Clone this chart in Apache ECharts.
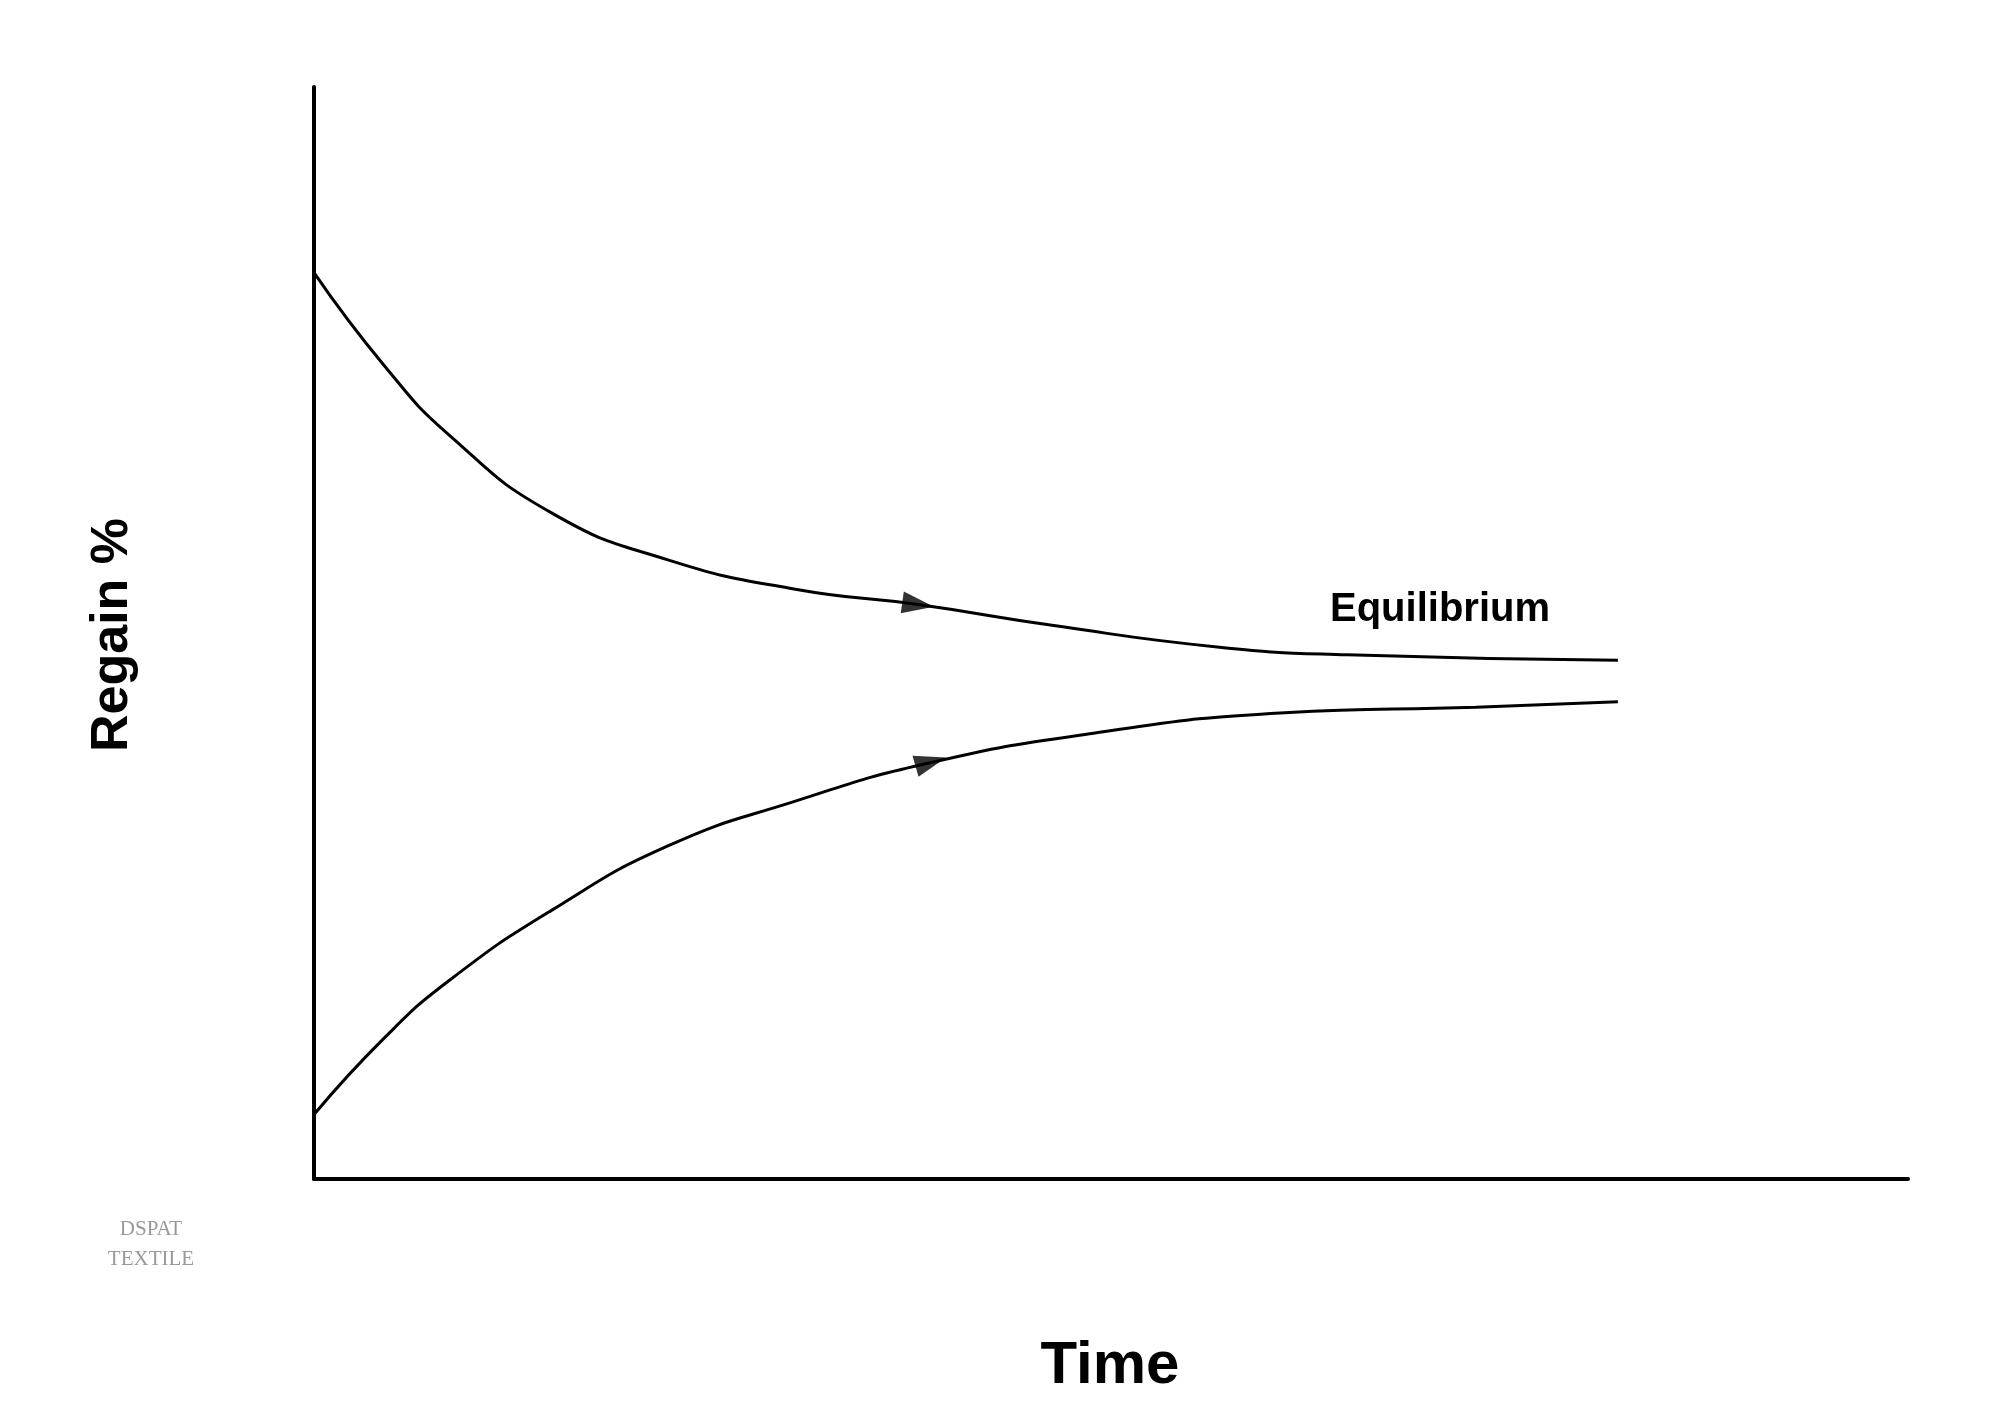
<!DOCTYPE html>
<html>
<head>
<meta charset="utf-8">
<script src="https://cdn.jsdelivr.net/npm/echarts@6/dist/echarts.min.js"></script>
<style>html,body{margin:0;background:#fff}#chart{width:2001px;height:1409px}</style>
</head>
<body>
<div id="chart"></div>
<script>
// 数据：上方曲线（解吸）与下方曲线（吸湿）
const desorbX = [0, 4.4, 8.5, 14.9, 22.2, 30.2, 37.9, 46.3, 56.8, 64.8, 81.8];
const desorbY = [83.0, 74.5, 68.1, 61.0, 56.7, 54.0, 52.6, 50.7, 48.7, 48.0, 47.5];
const absorbX = [0, 4.4, 8.5, 14.9, 22.2, 30.2, 38.3, 48.8, 60.9, 72.9, 81.8];
const absorbY = [5.9, 12.9, 18.2, 24.6, 30.5, 34.6, 38.0, 40.8, 42.7, 43.2, 43.7];
// 箭头位置
const arrowPts = [[37.9, 52.6, -98], [38.7, 38.2, -74]];

const chart = echarts.init(document.getElementById('chart'));
const pairs = (xs, ys) => xs.map((x, i) => [x, ys[i]]);
const lineStyle = { color: '#000', width: 3 };

chart.setOption({
    animation: false,
    grid: { left: 314, top: 87, right: 93, bottom: 230 },
    xAxis: {
        type: 'value', min: 0, max: 100,
        axisLine: { lineStyle: { color: '#000', width: 4 } },
        axisTick: { show: false }, axisLabel: { show: false }, splitLine: { show: false }
    },
    yAxis: {
        type: 'value', min: 0, max: 100,
        axisLine: { show: true, lineStyle: { color: '#000', width: 4 } },
        axisTick: { show: false }, axisLabel: { show: false }, splitLine: { show: false }
    },
    series: [
        { type: 'line', data: pairs(desorbX, desorbY), smooth: true, showSymbol: false, lineStyle },
        { type: 'line', data: pairs(absorbX, absorbY), smooth: true, showSymbol: false, lineStyle },
        {
            type: 'scatter', symbol: 'triangle', symbolSize: [22, 32],
            data: arrowPts.map(p => ({ value: [p[0], p[1]], symbolRotate: p[2] })),
            itemStyle: { color: '#000' }
        }
    ],
    graphic: [
        { type: 'text', left: 1330, top: 590, style: { text: 'Equilibrium', font: 'bold 40px "Liberation Sans", Arial', fill: '#000' } },
        { type: 'text', x: 113, y: 635, rotation: Math.PI / 2, style: { text: 'Regain %', font: 'bold 52px "Liberation Sans", Arial', fill: '#000', align: 'center', verticalAlign: 'middle' } },
        { type: 'text', x: 1110, y: 1366, style: { text: 'Time', font: 'bold 60px "Liberation Sans", Arial', fill: '#000', align: 'center', verticalAlign: 'middle' } },
        { type: 'text', x: 151, y: 1244, style: { text: 'DSPAT\nTEXTILE', font: '21px "Liberation Serif", serif', fill: '#999', align: 'center', verticalAlign: 'middle', lineHeight: 30 } }
    ]
});
</script>
</body>
</html>
